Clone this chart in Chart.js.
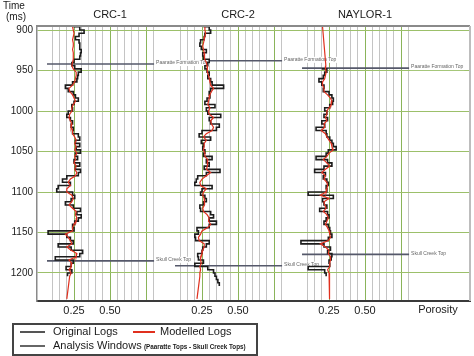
<!DOCTYPE html>
<html><head><meta charset="utf-8">
<script src="https://cdn.jsdelivr.net/npm/chart.js@4.4.1/dist/chart.umd.min.js"></script>
<style>html,body{margin:0;padding:0;background:#fff;}canvas{display:block;}</style>
</head><body>
<canvas id="c" width="474" height="356"></canvas>
<script>
const WELLS = ['CRC-1', 'CRC-2', 'NAYLOR-1'];
const TIME = [
  896,900,904,908,912,916,920,924,928,932,
  936,940,944,948,952,956,960,964,968,972,
  976,980,984,988,992,996,1000,1004,1008,1012,
  1016,1020,1024,1028,1032,1036,1040,1044,1048,1052,
  1056,1060,1064,1068,1072,1076,1080,1084,1088,1092,
  1096,1100,1104,1108,1112,1116,1120,1124,1128,1132,
  1136,1140,1144,1148,1152,1156,1160,1164,1168,1172,
  1176,1180,1184,1188,1192,1196,1200,1204,1208,1212,
  1216,1220,1224,1228,1232
];
const CRC1_ORIGINAL = [
  .245,.29,.32,.285,.26,.285,.29,.29,.30,.295,
  .29,.25,.235,.255,.30,.28,.275,.27,.24,.19,
  .21,.245,.26,.28,.25,.235,.24,.21,.20,.225,
  .24,.23,.245,.24,.28,.29,.26,.29,.265,.295,
  .26,.275,.25,.29,.26,.295,.28,.20,.17,.225,
  .14,.13,.24,.255,.23,.19,.245,.295,.27,.30,
  .28,.255,.24,.25,.07,.20,.225,.245,.14,.23,
  .31,.29,.12,.245,.23,.195,.235,.205,null,null,
  null,null,null,null,null
];
const CRC1_MODELLED = [
  .24,.245,.25,.245,.24,.245,.245,.24,.245,.245,
  .245,.24,.235,.245,.265,.265,.26,.255,.24,.215,
  .22,.24,.25,.26,.245,.235,.235,.22,.215,.225,
  .235,.23,.24,.24,.255,.265,.255,.265,.255,.27,
  .255,.26,.25,.265,.255,.27,.26,.225,.21,.225,
  .20,.20,.235,.245,.235,.215,.24,.265,.26,.27,
  .265,.25,.24,.24,.19,.21,.225,.235,.20,.23,
  .27,.265,.215,.235,.23,.215,.23,.22,null,null,
  null,null,null,null,.20
];
const CRC2_ORIGINAL = [
  .26,.30,.31,.27,.265,.24,.235,.245,.28,.255,
  .26,.30,.29,.27,.285,.30,.29,.31,.32,.40,
  .31,.30,.305,.285,.27,.34,.28,.29,.38,.30,
  .31,.37,.35,.25,.23,.31,.245,.26,.255,.27,
  .26,.32,.28,.30,.265,.375,.28,.22,.21,.20,
  .32,.25,.24,.27,.28,.26,.235,.24,.31,.33,
  .30,.35,.30,.215,.225,.20,.205,.30,.28,.255,
  .25,.22,.225,.26,.20,.29,.33,.34,.35,.36,
  .37,null,null,null,null
];
const CRC2_MODELLED = [
  .27,.27,.275,.27,.265,.26,.255,.26,.265,.265,
  .27,.28,.285,.285,.29,.295,.30,.305,.31,.33,
  .315,.305,.30,.295,.29,.305,.295,.30,.33,.31,
  .315,.33,.32,.28,.26,.28,.265,.265,.26,.27,
  .27,.29,.285,.29,.28,.31,.28,.25,.235,.24,
  .28,.26,.255,.265,.27,.265,.255,.26,.285,.30,
  .295,.31,.29,.25,.24,.225,.23,.265,.265,.255,
  .25,.24,.24,.245,.235,.24,.235,.235,null,null,
  null,null,null,null,.215
];
const NAYLOR1_ORIGINAL = [
  null,null,null,null,null,null,null,null,null,null,
  null,null,null,.20,.235,.22,.21,.18,.20,.215,
  .21,.25,.27,.28,.275,.255,.22,.235,.215,.24,
  .20,.22,.16,.23,.235,.255,.27,.28,.30,.245,
  .23,.16,.24,.27,.215,.15,.225,.21,.235,.245,
  .23,.235,.105,.28,.205,.215,.235,.185,.24,.25,
  .23,.215,.245,.255,.26,.27,.245,.055,.215,.26,
  .24,.27,.265,.25,.255,.105,.22,.23,null,null,
  null,null,null,null,null
];
const NAYLOR1_MODELLED = [
  .205,null,null,null,null,null,null,null,null,null,
  null,null,.228,.225,.23,.225,.22,.205,.205,.215,
  .215,.24,.26,.27,.265,.25,.235,.235,.225,.235,
  .215,.22,.195,.225,.235,.25,.265,.27,.28,.25,
  .235,.21,.235,.255,.225,.20,.225,.215,.235,.24,
  .235,.23,.19,.25,.215,.22,.23,.21,.235,.245,
  .235,.225,.24,.25,.255,.26,.245,.19,.225,.25,
  .245,.26,.26,.255,.255,.24,.25,.252,null,null,
  null,null,null,null,.255
];
const PAARATTE_TOPS = [942, 938, 947];
const SKULL_CREEK_TOPS = [1185, 1191, 1177];
const WINDOW_SPAN = [0.0625, 0.806];
const TIME_TICKS = [900, 950, 1000, 1050, 1100, 1150, 1200];
const POROSITY_GRID = [0.10,0.15,0.20,0.25,0.30,0.35,0.40,0.45,0.50,0.55,0.60,0.65,0.70,0.75,0.80];
const POROSITY_LABELS = ['0.25', '0.50'];

// layout: horizontal offset of each well panel on the shared x scale
const PANEL_OFFSET = [0, 0.889, 1.771];
const ORIGINAL = [CRC1_ORIGINAL, CRC2_ORIGINAL, NAYLOR1_ORIGINAL];
const MODELLED = [CRC1_MODELLED, CRC2_MODELLED, NAYLOR1_MODELLED];

function pts(vals, k) {
  return TIME.map((t, i) => vals[i] == null ? null : { x: vals[i] + PANEL_OFFSET[k], y: t }).filter(Boolean);
}

const xTickValues = [], xTickLabels = [], xTickGreen = [];
PANEL_OFFSET.forEach(off => POROSITY_GRID.forEach(p => {
  xTickValues.push(off + p);
  const lab = POROSITY_LABELS.find(l => Math.abs(parseFloat(l) - p) < 1e-6);
  xTickLabels.push(lab || '');
  xTickGreen.push(Math.abs(p / 0.25 - Math.round(p / 0.25)) < 1e-6);
}));

const FONT = "'Liberation Sans', Arial, sans-serif";
const datasets = [];
const windowLabels = [];
WELLS.forEach((w, k) => {
  [PAARATTE_TOPS[k], SKULL_CREEK_TOPS[k]].forEach((t, j) => {
    datasets.push({
      label: 'window', labelHook: datasets.length === 0,
      data: [{ x: PANEL_OFFSET[k] + WINDOW_SPAN[0], y: t }, { x: PANEL_OFFSET[k] + WINDOW_SPAN[1], y: t }],
      borderColor: '#55586a', borderWidth: 1.6, pointRadius: 0, order: 10
    });
    windowLabels.push({ text: j === 0 ? 'Paaratte Formation Top' : 'Skull Creek Top', x: PANEL_OFFSET[k] + WINDOW_SPAN[1], t });
  });
});
WELLS.forEach((w, k) => {
  datasets.push({ label: w + ' original', data: pts(ORIGINAL[k], k), stepped: true,
    borderColor: '#1c1c1c', borderWidth: 1.6, pointRadius: 0, order: 5 });
  datasets.push({ label: w + ' modelled', data: pts(MODELLED[k], k),
    borderColor: '#e0301e', borderWidth: 1.2, pointRadius: 0, order: 1 });
});

const deco = {
  id: 'deco',
  beforeDraw(chart) {
    const c = chart.ctx; c.save(); c.fillStyle = '#fff'; c.fillRect(0, 0, chart.width, chart.height); c.restore();
  },
  afterDatasetDraw(chart, args) {
    const ds = chart.data.datasets[args.index];
    if (!ds.labelHook) return;
    const c = chart.ctx, x = chart.scales.x, y = chart.scales.y;
    c.save();
    c.font = '5px ' + FONT; c.textBaseline = 'middle'; c.textAlign = 'left';
    windowLabels.forEach(l => {
      const px = x.getPixelForValue(l.x) + 2, py = y.getPixelForValue(l.t) - 1;
      const w = c.measureText(l.text).width;
      c.fillStyle = '#fff'; c.fillRect(px - 1, py - 3, w + 2, 6);
      c.fillStyle = '#666'; c.fillText(l.text, px, py);
    });
    c.restore();
  },
  afterDraw(chart) {
    const c = chart.ctx, a = chart.chartArea, x = chart.scales.x;
    c.save();
    c.lineWidth = 2; c.strokeStyle = '#8a8a8a';
    c.beginPath(); c.moveTo(a.left, a.top); c.lineTo(a.right, a.top); c.stroke();
    c.strokeStyle = '#bdbdbd';
    c.beginPath(); c.moveTo(a.right, a.top); c.lineTo(a.right, a.bottom); c.stroke();
    c.fillStyle = '#1a1a1a'; c.textBaseline = 'middle'; c.textAlign = 'center';
    c.font = '11px ' + FONT;
    WELLS.forEach((w, k) => c.fillText(w, x.getPixelForValue(PANEL_OFFSET[k] + 0.5), 15));
    c.fillText('Porosity', 438, 309.5);
    c.font = '10px ' + FONT;
    c.fillText('Time', 14, 6);
    c.fillText('(ms)', 16, 17);
    // legend
    c.lineWidth = 2; c.strokeStyle = '#444';
    c.strokeRect(13, 324, 244, 31);
    c.lineWidth = 2;
    c.strokeStyle = '#555'; c.beginPath(); c.moveTo(20, 332); c.lineTo(45, 332); c.stroke();
    c.strokeStyle = '#e0301e'; c.beginPath(); c.moveTo(133, 332); c.lineTo(155, 332); c.stroke();
    c.strokeStyle = '#666'; c.beginPath(); c.moveTo(20, 346); c.lineTo(45, 346); c.stroke();
    c.textAlign = 'left'; c.fillStyle = '#1a1a1a'; c.font = '11px ' + FONT;
    c.fillText('Original Logs', 53, 332);
    c.fillText('Modelled Logs', 160, 332);
    c.fillText('Analysis Windows', 53, 346);
    c.font = 'bold 6.3px ' + FONT;
    c.fillText('(Paaratte Tops - Skull Creek Tops)', 144, 347);
    c.restore();
  }
};

new Chart(document.getElementById('c'), {
  type: 'line',
  data: { datasets },
  plugins: [deco],
  options: {
    responsive: false, animation: false, devicePixelRatio: 1, events: [],
    layout: { padding: { top: 26, right: 4, left: 0, bottom: 0 } },
    plugins: { legend: { display: false }, tooltip: { enabled: false } },
    scales: {
      x: {
        type: 'linear', min: -0.007, max: 3.0,
        afterBuildTicks: s => { s.ticks = xTickValues.map(v => ({ value: v })); },
        afterFit: s => { s.height = 55; },
        grid: { drawTicks: false, lineWidth: 1, color: ctx => xTickGreen[ctx.index] ? '#8ab45a' : '#c4c4c4' },
        border: { display: true, color: '#3a3a3a', width: 2 },
        ticks: { autoSkip: false, maxRotation: 0, minRotation: 0, padding: 3, color: '#1a1a1a',
          font: { family: FONT, size: 11 }, callback: (v, i) => xTickLabels[i] }
      },
      y: {
        type: 'linear', reverse: true, min: 895, max: 1234.6,
        afterBuildTicks: s => { s.ticks = TIME_TICKS.map(v => ({ value: v })); },
        afterFit: s => { s.width = 37; },
        grid: { drawTicks: false, lineWidth: 1, color: '#9cc06a' },
        border: { display: true, color: '#8a8a8a', width: 1.5 },
        ticks: { padding: 4, color: '#1a1a1a', font: { family: FONT, size: 10 }, callback: v => String(v) }
      }
    }
  }
});
</script>
</body></html>
